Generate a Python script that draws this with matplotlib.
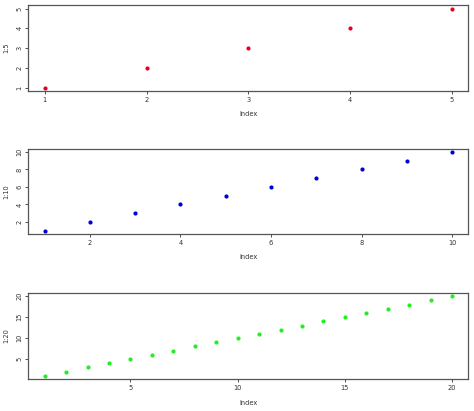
import numpy as np
import matplotlib
matplotlib.use("Agg")
import matplotlib.pyplot as plt

# data: the three panels, plot(1:n) style
y1 = [1, 2, 3, 4, 5]
y2 = [1, 2, 3, 4, 5, 6, 7, 8, 9, 10]
y3 = [1, 2, 3, 4, 5, 6, 7, 8, 9, 10, 11, 12, 13, 14, 15, 16, 17, 18, 19, 20]

labels = ["1:5", "1:10", "1:20"]
colores = ["#e8001c", "#0000d0", "#22ee22"]
xticks = [[1, 2, 3, 4, 5], [2, 4, 6, 8, 10], [5, 10, 15, 20]]
yticks = [[1, 2, 3, 4, 5], [2, 4, 6, 8, 10], [5, 10, 15, 20]]

fig = plt.figure(figsize=(4.74, 4.11), dpi=100)

# posiciones de los ejes (fraccion de figura)
posiciones = [
    [0.060, 0.779, 0.928, 0.208],
    [0.060, 0.431, 0.928, 0.207],
    [0.060, 0.078, 0.928, 0.209],
]

for serie, lab, col, xt, yt, pos in zip([y1, y2, y3], labels, colores,
                                        xticks, yticks, posiciones):
    ax = fig.add_axes(pos)
    x = np.arange(1, len(serie) + 1)
    ax.plot(x, serie, linestyle="none", marker="o", markersize=3.0,
            color=col, markeredgewidth=0)

    # margen estilo R (4%)
    pad_x = (x[-1] - x[0]) * 0.04
    pad_y = (max(serie) - min(serie)) * 0.04
    ax.set_xlim(x[0] - pad_x, x[-1] + pad_x)
    ax.set_ylim(min(serie) - pad_y, max(serie) + pad_y)

    ax.set_xticks(xt)
    ax.set_yticks(yt)
    ax.tick_params(labelsize=4.8, length=2.5, width=0.6, colors="#333333",
                   pad=2)
    for t in ax.get_yticklabels():
        t.set_rotation(90)
        t.set_va("center")

    for s in ax.spines.values():
        s.set_linewidth(0.9)
        s.set_color("#555555")

    ax.set_xlabel("Index", fontsize=4.8, color="#333333", labelpad=6)
    ax.set_ylabel(lab, fontsize=4.8, color="#333333")
    ax.yaxis.set_label_coords(-0.043, 0.5)

fig.savefig("out.png", dpi=100)
